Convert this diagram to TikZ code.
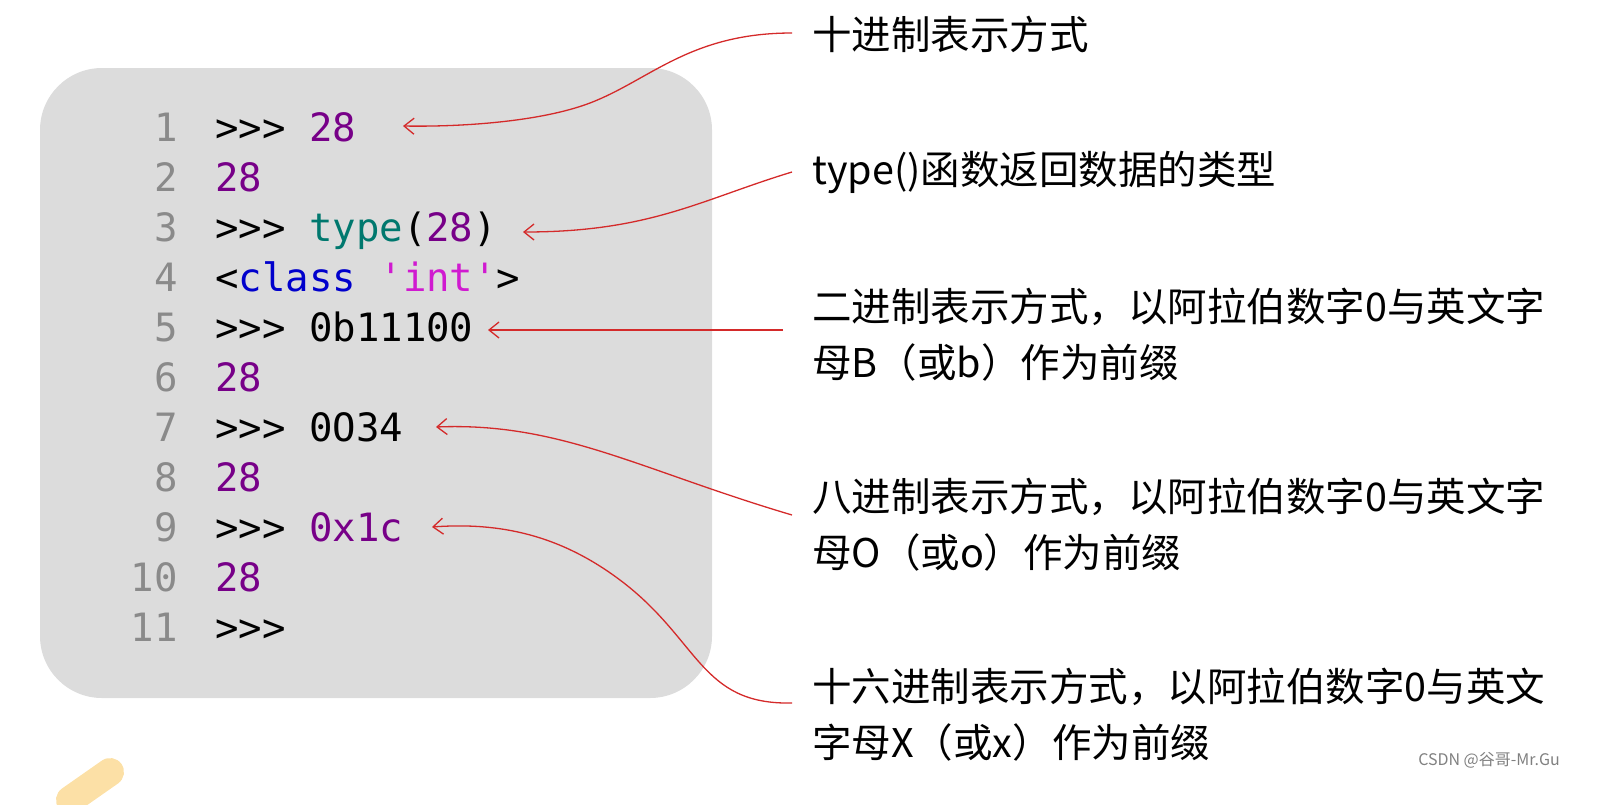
\documentclass[tikz,border=0pt]{standalone}
\usepackage{fontspec}
\setmonofont{DejaVu Sans Mono}
\newfontfamily\cjk{Noto Sans CJK SC}
\usetikzlibrary{arrows.meta}
\definecolor{boxgray}{HTML}{DCDCDC}
\definecolor{lnum}{HTML}{8A8A8A}
\definecolor{numc}{HTML}{770088}
\definecolor{fnc}{HTML}{00786E}
\definecolor{kwc}{HTML}{0000CC}
\definecolor{strc}{HTML}{D01AD0}
\definecolor{arr}{HTML}{D42A2A}
\definecolor{blob}{HTML}{FCE0A6}
\tikzset{
  code/.style={anchor=base west, inner sep=0, font=\ttfamily\fontsize{39}{42}\selectfont},
  lno/.style={anchor=base east, inner sep=0, text=lnum, font=\ttfamily\fontsize{39}{42}\selectfont},
  note/.style={anchor=north west, inner sep=0, align=left, font=\cjk\fontsize{39.5}{56}\selectfont},
  pointer/.style={draw=arr, line width=1.3pt, -{Straight Barb[length=10pt,width=16pt]}}
}
\begin{document}
\begin{tikzpicture}[x=1pt,y=-1pt]
\useasboundingbox (0,0) rectangle (1623,804);
\fill[boxgray, rounded corners=62pt] (40,68) rectangle (712,698);
\draw[line width=28pt, line cap=round, color=blob] (70,800) -- (110,772);
\foreach \i in {1,...,11} {\node[lno] (n\i) at (178,{127+50*(\i-1)+14}) {\i};}
\node[code] (c1) at (215,141) {>{}>{}> \textcolor{numc}{28}};
\node[code] (c2) at (215,191) {\textcolor{numc}{28}};
\node[code] (c3) at (215,241) {>{}>{}> \textcolor{fnc}{type}(\textcolor{numc}{28})};
\node[code] (c4) at (215,291) {<\textcolor{kwc}{class} \textcolor{strc}{'int'}>};
\node[code] (c5) at (215,341) {>{}>{}> 0b11100};
\node[code] (c6) at (215,391) {\textcolor{numc}{28}};
\node[code] (c7) at (215,441) {>{}>{}> 0O34};
\node[code] (c8) at (215,491) {\textcolor{numc}{28}};
\node[code] (c9) at (215,541) {>{}>{}> \textcolor{numc}{0x1c}};
\node[code] (c10) at (215,591) {\textcolor{numc}{28}};
\node[code] (c11) at (215,641) {>{}>{}>};
\node[note] (t1) at (812,16) {十进制表示方式};
\node[note] (t2) at (812,151) {type()函数返回数据的类型};
\node[note] (t3) at (812,288) {二进制表示方式，以阿拉伯数字0与英文字\\母B（或b）作为前缀};
\node[note] (t4) at (812,478) {八进制表示方式，以阿拉伯数字0与英文字\\母O（或o）作为前缀};
\node[note] (t5) at (812,668) {十六进制表示方式，以阿拉伯数字0与英文\\字母X（或x）作为前缀};
\coordinate (s1) at (792,33); \coordinate (e1) at (403,126);
\coordinate (s2) at (792,172); \coordinate (e2) at (523,232);
\coordinate (s3) at (783,330); \coordinate (e3) at (488,330);
\coordinate (s4) at (792,515); \coordinate (e4) at (436,427);
\coordinate (s5) at (792,703); \coordinate (e5) at (432,527);
\draw[pointer] (s1) .. controls (690,33) and (650,80) .. (590,103) .. controls (540,122) and (460,127) .. (e1);
\draw[pointer] (s2) .. controls (700,200) and (650,232) .. (e2);
\draw[pointer] (s3) -- (e3);
\draw[pointer] (s4) .. controls (640,470) and (560,422) .. (e4);
\draw[pointer] (s5) .. controls (700,705) and (700,640) .. (620,580) .. controls (560,535) and (500,522) .. (e5);
\node[anchor=east, inner sep=0, text=gray, font=\cjk\fontsize{16}{18}\selectfont] (wm) at (1560,760) {CSDN @谷哥-Mr.Gu};
\end{tikzpicture}
\end{document}
